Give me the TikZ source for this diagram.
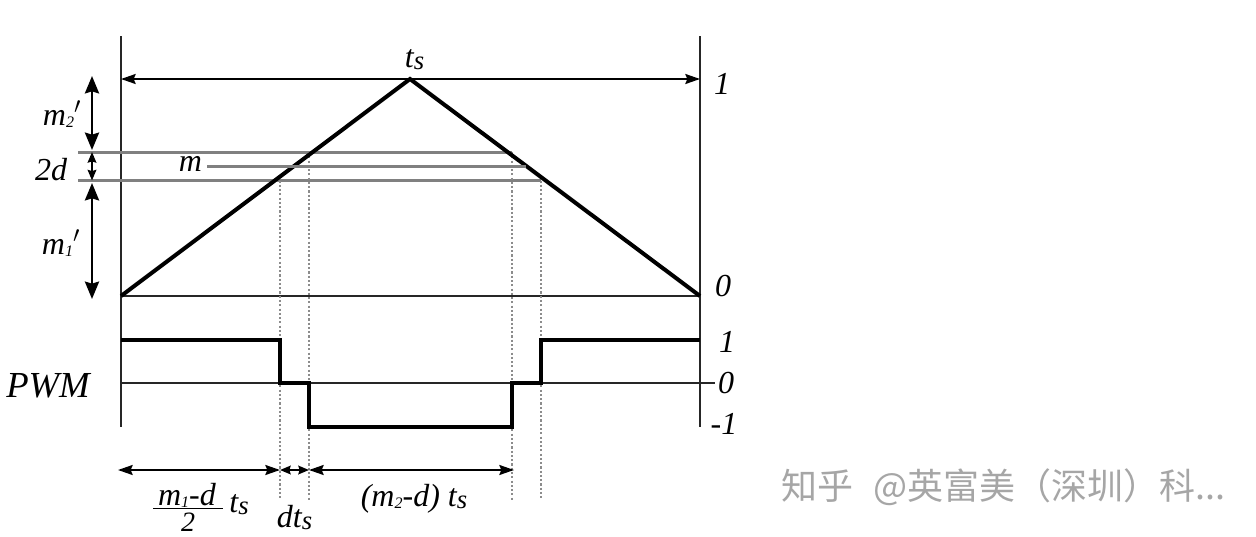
\documentclass[tikz,border=0pt]{standalone}
\usepackage{fontspec}
\setmainfont{Liberation Serif}
\newfontfamily\cjkfont{Noto Sans CJK SC}
\usetikzlibrary{
  arrows.meta
}
\newcommand{\subnum}[1]{{\fontsize{12}{12}\selectfont\raisebox{-1.5pt}{#1}}}
\newcommand{\subtime}{{\fontsize{20}{20}\selectfont\raisebox{-1.5pt}{s}}}

\begin{document}
\begin{tikzpicture}[
    x=0.75pt, y=-0.75pt,
    every node/.style = {font=\fontsize{24}{26}\selectfont\itshape, inner sep=0pt, align=center},
    axisline/.style = {line width=1.1pt, black!85},
    wave/.style = {line width=3pt, black, line join=miter},
    level/.style = {line width=1.7pt, black!50},
    guide/.style = {line width=1.7pt, black!45, dash pattern=on 1.6pt off 1.6pt},
    bigdim/.style = {line width=2.1pt, {Stealth[length=13pt,width=10.5pt,inset=1.5pt]}-{Stealth[length=13pt,width=10.5pt,inset=1.5pt]}},
    smalldim/.style = {line width=1.4pt, {Stealth[length=8pt,width=6.5pt,inset=1pt]}-{Stealth[length=8pt,width=6.5pt,inset=1pt]}},
    spandim/.style = {line width=1.4pt, {Stealth[length=11pt,width=7.5pt,inset=1.5pt]}-{Stealth[length=11pt,width=7.5pt,inset=1.5pt]}}]
  \useasboundingbox (0,0) rectangle (1256,536);

  % triangle
  \coordinate (lefttop) at (121,36);
  \coordinate (leftend) at (121,427);
  \coordinate (righttop) at (700,36);
  \coordinate (rightend) at (700,427);
  \coordinate (base1) at (121,296);
  \coordinate (base2) at (700,296);
  \coordinate (peak) at (410,79);
  \coordinate (span1) at (121,79);
  \coordinate (span2) at (700,79);
  \draw[axisline] (lefttop) -- (leftend);
  \draw[axisline] (righttop) -- (rightend);
  \draw[axisline] (base1) -- (base2);
  \draw[spandim] (span1) -- (span2);

  % levels
  \coordinate (hi1) at (78,152.5);
  \coordinate (hi2) at (512,152.5);
  \coordinate (lo1) at (78,180.5);
  \coordinate (lo2) at (541,180.5);
  \coordinate (mid2) at (526,166.5);
  \draw[level] (hi1) -- (hi2);
  \draw[level] (lo1) -- (lo2);

  % guides
  \coordinate (a1) at (280,180.5);
  \coordinate (a2) at (280,500);
  \coordinate (b1) at (309,152);
  \coordinate (b2) at (309,500);
  \coordinate (c1) at (512,152);
  \coordinate (c2) at (512,500);
  \coordinate (d1) at (541,180.5);
  \coordinate (d2) at (541,500);
  \foreach \from/\to in {a1/a2, b1/b2, c1/c2, d1/d2}
    \draw[guide] (\from) -- (\to);

  % pwm
  \coordinate (zero1) at (121,383);
  \coordinate (zero2) at (715,383);
  \draw[axisline] (zero1) -- (zero2);
  \draw[wave] (base1) -- (peak) -- (base2);
  \draw[wave] (121,340) -- (280,340) -- (280,383) -- (309,383) -- (309,427)
    -- (512,427) -- (512,383) -- (541,383) -- (541,340) -- (700,340);

  % dimensions
  \coordinate (dim1) at (92,76);
  \coordinate (dim2) at (92,150);
  \coordinate (dim3) at (92,152);
  \coordinate (dim4) at (92,180.5);
  \coordinate (dim5) at (92,183);
  \coordinate (dim6) at (92,299);
  \draw[bigdim] (dim1) -- (dim2);
  \draw[smalldim] (dim3) -- (dim4);
  \draw[bigdim] (dim5) -- (dim6);
  \coordinate (bot1) at (118,470);
  \coordinate (bot2) at (280,470);
  \coordinate (bot3) at (309,470);
  \coordinate (bot4) at (514,470);
  \draw[spandim] (bot1) -- (bot2);
  \draw[smalldim] (bot2) -- (bot3);
  \draw[spandim] (bot3) -- (bot4);

  % labels
  \node (ts) at (414.5,60) {t\subtime};
  \node (one) at (722,84) {1};
  \node (zeroa) at (723,286) {0};
  \node (oneb) at (727,342) {1};
  \node (zerob) at (726,383) {0};
  \node (minus) at (724,424) {-1};
  \node (mtwo) at (62,114) {m\subnum{2}$'$};
  \node (twod) at (51,170) {2d};
  \node (mone) at (61,243) {m\subnum{1}$'$};
  \node (mlabel) at (190.5,164) {m};
  \coordinate (mid1) at (207,166.5);
  \draw[level] (mid1) -- (mid2);
  \node (pwm) at (48,386) {\fontsize{27.5}{29}\selectfont PWM};
  \node (fracnum) at (187,495) {m\subnum{1}-d};
  \node (fracden) at (188,522.5) {\fontsize{21}{22}\selectfont 2};
  \coordinate (rule1) at (153,508.5);
  \coordinate (rule2) at (223,508.5);
  \draw[line width=1.1pt] (rule1) -- (rule2);
  \node (fracts) at (239,505) {t\subtime};
  \node (dts) at (294.5,518) {dt\subtime};
  \node (diff) at (414,499) {(m\subnum{2}-d) t\subtime};

  % watermark
  \node[font=\fontsize{27}{29}\selectfont\cjkfont, text=black!35, anchor=west] (mark) at (781,487) {知乎\hspace{9pt} @英富美（深圳）科...};
\end{tikzpicture}
\end{document}
